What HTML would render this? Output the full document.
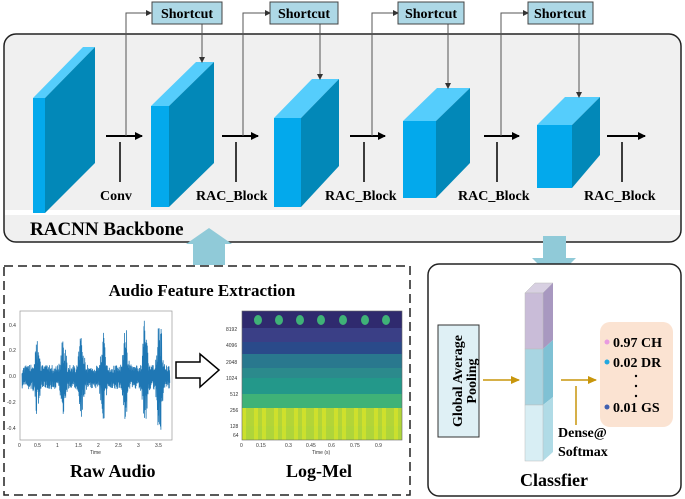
<!DOCTYPE html>
<html><head><meta charset="utf-8"><style>
body{margin:0;background:#fff}
svg{display:block}
text{font-family:"Liberation Serif",serif;font-weight:bold}
.s{font-family:"Liberation Sans",sans-serif;font-weight:normal;font-size:5px;fill:#333}
</style></head><body>
<svg id="sv" width="685" height="499" viewBox="0 0 685 499">
<defs>
<marker id="ah" markerWidth="8" markerHeight="8" refX="7" refY="4" orient="auto" markerUnits="userSpaceOnUse"><path d="M0,0 L8,4 L0,8 z" fill="#000"/></marker>
<marker id="as" markerWidth="6" markerHeight="6" refX="5" refY="3" orient="auto" markerUnits="userSpaceOnUse"><path d="M0,0 L6,3 L0,6 z" fill="#333"/></marker>
<marker id="ag" markerWidth="9" markerHeight="8" refX="8" refY="4" orient="auto" markerUnits="userSpaceOnUse"><path d="M0,0 L9,4 L0,8 z" fill="#c8960c"/></marker>
</defs>
<rect x="4" y="34" width="677" height="208" rx="12" fill="#f0f0f0" stroke="#222" stroke-width="1.5"/>
<rect x="5" y="210" width="675" height="5" fill="#fff"/>
<text x="30" y="235" font-size="19">RACNN Backbone</text>
<g id="blocks"></g>
<g stroke="#000" stroke-width="2">
<line x1="106" y1="136" x2="142" y2="136" marker-end="url(#ah)"/>
<line x1="222" y1="136" x2="258" y2="136" marker-end="url(#ah)"/>
<line x1="350" y1="136" x2="385" y2="136" marker-end="url(#ah)"/>
<line x1="484" y1="136" x2="519" y2="136" marker-end="url(#ah)"/>
<line x1="607" y1="136" x2="645" y2="136" marker-end="url(#ah)"/>
</g>
<g stroke="#000" stroke-width="1.5">
<line x1="120" y1="142" x2="120" y2="182"/><line x1="236" y1="142" x2="236" y2="182"/>
<line x1="364" y1="142" x2="364" y2="182"/><line x1="497" y1="142" x2="497" y2="182"/>
<line x1="622" y1="142" x2="622" y2="182"/>
</g>
<g font-size="14">
<text x="100" y="200">Conv</text><text x="196" y="200">RAC_Block</text>
<text x="325" y="200">RAC_Block</text><text x="458" y="200">RAC_Block</text>
<text x="584" y="200">RAC_Block</text>
</g>
<g stroke="#555" stroke-width="1" fill="none">
<polyline points="126,136 126,13 151,13" marker-end="url(#as)"/>
<polyline points="243,136 243,13 270,13" marker-end="url(#as)"/>
<polyline points="372,136 372,13 398,13" marker-end="url(#as)"/>
<polyline points="501,136 501,13 528,13" marker-end="url(#as)"/>
<line x1="202" y1="24" x2="202" y2="62" marker-end="url(#as)"/>
<line x1="320" y1="24" x2="320" y2="79" marker-end="url(#as)"/>
<line x1="448" y1="24" x2="448" y2="88" marker-end="url(#as)"/>
<line x1="579" y1="24" x2="579" y2="97" marker-end="url(#as)"/>
</g>
<g fill="#add8e6" stroke="#444" stroke-width="1">
<rect x="152" y="2" width="70" height="22"/><rect x="270" y="2" width="68" height="22"/>
<rect x="398" y="2" width="66" height="22"/><rect x="528" y="2" width="65" height="22"/>
</g>
<g font-size="14" text-anchor="middle">
<text x="187" y="18">Shortcut</text><text x="304" y="18">Shortcut</text>
<text x="431" y="18">Shortcut</text><text x="560" y="18">Shortcut</text>
</g>
<polygon points="193,265 193,244 186,244 209,228 232,244 225,244 225,265" fill="#90cad8"/>
<polygon points="543,236 566,236 566,258 576,258 554,280 532,258 543,258" fill="#90cad8"/>
<rect x="4" y="266" width="406" height="229" fill="none" stroke="#222" stroke-width="1.5" stroke-dasharray="9,5"/>
<text x="202" y="296" font-size="17" text-anchor="middle">Audio Feature Extraction</text>
<rect x="20" y="311" width="152" height="129" fill="#fff" stroke="#999" stroke-width="0.7"/>
<path id="wave" fill="none" stroke="#1f77b4" stroke-width="0.8"/>
<g class="s">
<text x="9" y="327" class="s">0.4</text><text x="9" y="352" class="s">0.2</text><text x="9" y="378" class="s">0.0</text>
<text x="7" y="404" class="s">-0.2</text><text x="7" y="430" class="s">-0.4</text>
<text x="18" y="447" class="s">0</text><text x="34" y="447" class="s">0.5</text><text x="56" y="447" class="s">1</text>
<text x="75" y="447" class="s">1.5</text><text x="97" y="447" class="s">2</text><text x="115" y="447" class="s">2.5</text>
<text x="137" y="447" class="s">3</text><text x="155" y="447" class="s">3.5</text><text x="90" y="454" class="s">Time</text>
</g>
<polygon points="176,362 200,362 200,354 219,370 200,387 200,378 176,378" fill="#fff" stroke="#000" stroke-width="1.5"/>
<g id="spec"></g>
<g class="s">
<text x="226" y="331" class="s">8192</text><text x="226" y="347" class="s">4096</text><text x="226" y="364" class="s">2048</text>
<text x="226" y="380" class="s">1024</text><text x="230" y="396" class="s">512</text><text x="230" y="412" class="s">256</text>
<text x="230" y="428" class="s">128</text><text x="233" y="437" class="s">64</text>
<text x="240" y="447" class="s">0</text><text x="256" y="447" class="s">0.15</text><text x="285" y="447" class="s">0.3</text>
<text x="306" y="447" class="s">0.45</text><text x="328" y="447" class="s">0.6</text><text x="350" y="447" class="s">0.75</text>
<text x="375" y="447" class="s">0.9</text><text x="312" y="454" class="s">Time (s)</text>
</g>
<text x="70" y="477" font-size="18">Raw Audio</text>
<text x="286" y="477" font-size="18">Log-Mel</text>
<rect x="428" y="264" width="253" height="232" rx="11" fill="#fff" stroke="#222" stroke-width="1.5"/>
<rect x="438" y="325" width="41" height="112" fill="#dff0f5" stroke="#333" stroke-width="1"/>
<text transform="translate(462,381) rotate(-90)" font-size="14" text-anchor="middle">Global Average</text>
<text transform="translate(476,381) rotate(-90)" font-size="14" text-anchor="middle">Pooling</text>
<polygon points="525,293 535,283 553,283 543,293" fill="#d8d0e2" stroke="#bbb" stroke-width="0.5"/>
<polygon points="543,293 553,283 553,340 543,349" fill="#a898c0"/>
<rect x="525" y="293" width="18" height="56" fill="#c9bcd8" stroke="#bbb" stroke-width="0.5"/>
<polygon points="543,349 553,340 553,397 543,405" fill="#7fc1d4"/>
<rect x="525" y="349" width="18" height="56" fill="#a8d5e2" stroke="#bbb" stroke-width="0.5"/>
<polygon points="543,405 553,397 553,452 543,461" fill="#b0dbe6"/>
<rect x="525" y="405" width="18" height="56" fill="#d8eef4" stroke="#bbb" stroke-width="0.5"/>
<g stroke="#c8960c" stroke-width="1.5">
<line x1="483" y1="380" x2="519" y2="380" marker-end="url(#ag)"/>
<line x1="561" y1="380" x2="596" y2="380" marker-end="url(#ag)"/>
<line x1="576" y1="386" x2="576" y2="425"/>
</g>
<text x="558" y="437" font-size="14">Dense@</text>
<text x="558" y="456" font-size="14">Softmax</text>
<rect x="600" y="322" width="73" height="105" rx="10" fill="#fbe3d2"/>
<circle cx="607" cy="342" r="2.5" fill="#e89be0"/><circle cx="607" cy="362" r="2.5" fill="#22a8e0"/><circle cx="607" cy="407" r="2.5" fill="#4060b0"/>
<g font-size="14"><text x="613" y="347">0.97 CH</text><text x="613" y="367">0.02 DR</text><text x="613" y="412">0.01 GS</text></g>
<g fill="#000"><circle cx="636" cy="376" r="1.2"/><circle cx="636" cy="386" r="1.2"/><circle cx="636" cy="396" r="1.2"/></g>
<text x="554" y="486" font-size="18" text-anchor="middle">Classfier</text>
</svg>
<script>
var NS="http://www.w3.org/2000/svg";
function el(t,a,p){var e=document.createElementNS(NS,t);for(var k in a)e.setAttribute(k,a[k]);p.appendChild(e);return e;}
var B=[[33,45,98,213,95,47,163],[151,169,106,207,214,62,163],[274,301,118,207,339,79,166],[403,436,121,198,470,88,163],[537,572,125,188,600,97,155]];
var g=document.getElementById("blocks");
B.forEach(function(b){var x0=b[0],x1=b[1],yt=b[2],yb=b[3],bx=b[4],by=b[5],bb=b[6],d=bx-x1;
el("polygon",{points:x0+","+yt+" "+(x0+d)+","+by+" "+bx+","+by+" "+x1+","+yt,fill:"#55cdfc"},g);
el("polygon",{points:x1+","+yt+" "+bx+","+by+" "+bx+","+bb+" "+x1+","+yb,fill:"#0288b8"},g);
el("rect",{x:x0,y:yt,width:x1-x0,height:yb-yt,fill:"#03a9ec"},g);});
var d="";
for(var i=0;i<600;i++){var t=i/600,env=0.22;
[[0.1,0.55],[0.28,0.6],[0.4,0.7],[0.55,0.65],[0.7,0.75],[0.83,0.85],[0.93,1.0]].forEach(function(p){env+=p[1]*Math.exp(-Math.pow((t-p[0])/0.018,2));});
var a=env*(0.3+0.7*Math.abs(Math.sin(i*12.9898)*43758.5453%1));var x=22+t*148;var y=377+(i%2?a:-a)*55;
d+=(i?"L":"M")+x.toFixed(1)+","+y.toFixed(1);}
document.getElementById("wave").setAttribute("d",d);
var s=document.getElementById("spec");
var rows=[["#2f2a6e",316,12],["#3a3f86",328,14],["#2a4a8a",342,12],["#29788e",354,14],["#2b8a8c",368,10],["#23988a",378,16],["#3fb277",394,14],["#b8d833",408,18],["#a5d43e",426,14]];
el("rect",{x:242,y:311,width:160,height:129,fill:"#2f2a6e"},s);
rows.forEach(function(r){el("rect",{x:242,y:r[1],width:160,height:r[2],fill:r[0]},s);});
for(var k=0;k<40;k++){el("rect",{x:242+k*4,y:408,width:4,height:32,fill:(k*7%5<2)?"#d4e22a":"#b0d43a",opacity:0.8},s);}
[250,271,292,313,335,357,378].forEach(function(p){el("ellipse",{cx:p+8,cy:320,rx:4,ry:5,fill:"#3fb277"},s);});
el("rect",{x:242,y:311,width:160,height:129,fill:"none",stroke:"#666","stroke-width":0.6},s);
</script>
</body></html>
